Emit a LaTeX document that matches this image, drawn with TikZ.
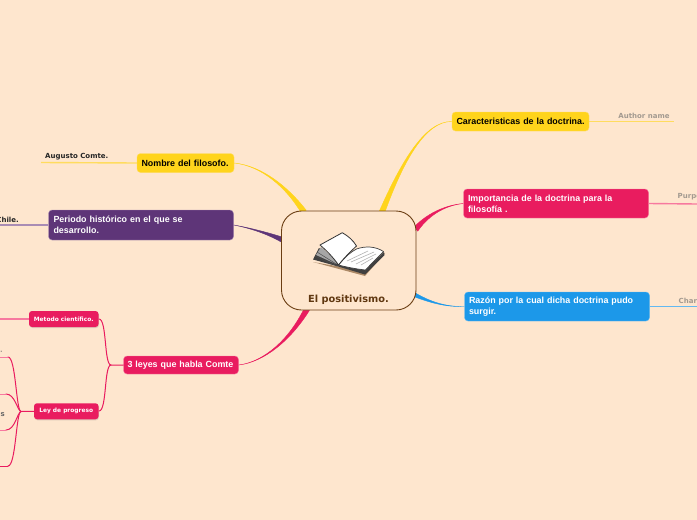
\documentclass[tikz,border=0pt]{standalone}
\usepackage{fontspec}
\setmainfont{Liberation Sans}
\newfontfamily\dejavu{DejaVu Sans}
\usetikzlibrary{calc,shadows}
\definecolor{bgc}{HTML}{FEE6CE}
\definecolor{yel}{HTML}{FFD41C}
\definecolor{mag}{HTML}{E91C5F}
\definecolor{pur}{HTML}{5E3578}
\definecolor{blu}{HTML}{1C98E9}
\definecolor{brn}{HTML}{6B3E13}
\definecolor{yell}{HTML}{FFDC5E}
\definecolor{magl}{HTML}{F7799F}
\definecolor{purl}{HTML}{A98CB4}
\definecolor{blul}{HTML}{63B9F1}
\definecolor{gr}{HTML}{A39A90}
\tikzset{
  topic/.style={rounded corners=3.5pt,inner sep=0pt,align=left,font=\bfseries\fontsize{8.9}{11}\selectfont,anchor=center},
  subtopic/.style={rounded corners=3pt,inner sep=0pt,align=center,font=\dejavu\bfseries\fontsize{5.9}{8}\selectfont,fill=mag,text=white,drop shadow={shadow xshift=0.5pt,shadow yshift=-1pt,opacity=.25}},
  leaftext/.style={inner sep=0pt,font=\dejavu\bfseries\fontsize{7}{8}\selectfont},
  thin link/.style={line width=1pt,line cap=round},
  leaf link/.style={line width=1.4pt},
}
% start, c1, c2, end, colour, half-width vector at the end
\newcommand{\taper}[6]{%
  \fill[#5,draw=#5,line width=.4pt,line join=round] (#1) .. controls ($(#2)+0.05*(#6)$) and ($(#3)+0.3*(#6)$) .. ($(#4)+(#6)$) -- ($(#4)-(#6)$) .. controls ($(#3)-0.3*(#6)$) and ($(#2)-0.05*(#6)$) .. (#1);}
\begin{document}
\begin{tikzpicture}[x=1pt,y=-1pt]
\useasboundingbox (0,0) rectangle (697,520);
\clip (0,0) rectangle (697,520);
\fill[bgc] (0,0) rectangle (697,520);

% nodes (fixed sizes)
\node[topic,fill=yel,draw=yell,line width=.4pt,text=black,minimum width=137pt,minimum height=19pt,text width=128pt] (car) at (520.5,121.5) {\mbox{Caracteristicas de la doctrina.}};
\node[topic,fill=mag,draw=magl,line width=.4pt,text=white,minimum width=185pt,minimum height=29pt,text width=176pt] (imp) at (556,203.5) {Importancia de la doctrina para la\\filosofía .};
\node[topic,fill=blu,draw=blul,line width=.4pt,text=white,minimum width=185pt,minimum height=29pt,text width=176pt] (raz) at (557,306.5) {Razón por la cual dicha doctrina pudo\\surgir.};
\node[topic,fill=yel,draw=yell,line width=.4pt,text=black,minimum width=97pt,minimum height=19pt,text width=88pt] (nom) at (185.5,163) {Nombre del filosofo.};
\node[topic,fill=pur,draw=purl,line width=.4pt,text=white,minimum width=185pt,minimum height=30pt,text width=175pt] (per) at (141,225) {Periodo histórico en el que se\\desarrollo.};
\node[topic,fill=mag,draw=magl,line width=.4pt,text=white,minimum width=115pt,minimum height=18pt,text width=107pt] (ley) at (181,365) {3 leyes que habla Comte};
\node[subtopic,minimum width=69.5pt,minimum height=16pt] (met) at (63.75,319) {Metodo científico.};
\node[subtopic,minimum width=64.5pt,minimum height=16pt] (pro) at (66.25,411.25) {Ley de progreso};

% central node geometry for the connectors
\coordinate (cenyl) at (304,212);
\coordinate (cenyr) at (382,212);
\coordinate (cenp) at (283,240);
\coordinate (cenm) at (416,229);
\coordinate (cenb) at (415,295);
\coordinate (cenl) at (307,309);

% main branches
\taper{nom.east}{262,166}{287,187}{cenyl}{yel}{2.2,-1.8}
\taper{car.west}{425,121}{402,162}{cenyr}{yel}{2.6,1.0}
\taper{per.east}{250,228}{267,233}{cenp}{pur}{1.0,-2.4}
\taper{imp.west}{448,205}{430,212}{cenm}{mag}{1.7,2.2}
\taper{raz.west}{445,307}{430,302}{cenb}{blu}{0.8,-1.7}
\taper{ley.east}{264,362}{290,340}{cenl}{mag}{2.4,1.4}

% central node
\node[draw=brn,line width=.9pt,fill=bgc,rounded corners=20pt,minimum width=134.5pt,minimum height=99pt,inner sep=0pt] (cen) at (348.75,260.5) {};
\node[inner sep=0pt,font=\dejavu\bfseries\fontsize{9.8}{11}\selectfont,text=brn!90!black] (centext) at (348.5,299.5) {El positivismo.};

% book
\fill[brn!55!bgc] (313,262) -- (365,276) -- (385,253) -- (365,271) -- cycle;
\fill[black!75] (313,259.5) -- (319,248) -- (340,262) -- (365,270) -- (384,252) -- (384.5,255) -- (365,274.5) -- (340,267) -- cycle;
\fill[black!35] (316,255) -- (321,247) -- (338,262) -- (336,264) -- cycle;
\draw[black!70,line width=.5pt] (317,252) -- (337,264.5) (315,256) -- (337,266);
\draw[black!75,line width=.7pt,fill=white,line join=round] (338.5,265) .. controls (347,255) and (351,252) .. (356.5,249) .. controls (365,246) and (375,246) .. (383.5,251.5) .. controls (377,258) and (371,264) .. (365.5,270) .. controls (356,269) and (346,267) .. (338.5,265) -- cycle;
\draw[black!30,line width=.6pt] (347,261) -- (368,251) (351,262) -- (374,252) (356,264) -- (376,254) (361,265) -- (373,258);
\draw[black!80,line width=.8pt,fill=white,line join=round] (320,245) -- (342.3,232.7) .. controls (348,236) and (353,240) .. (356.5,246) .. controls (350,252) and (344,258) .. (338.5,265) .. controls (333,257) and (326,250) .. (320,245) -- cycle;

% leaves
\node[leaftext,text=gr,anchor=south] (lauth) at (644,119) {Author name};
\coordinate (eauth) at (674,121.5);
\draw[yell,leaf link] (car.east) -- (eauth);
\node[leaftext,text=gr,anchor=south west] (lpur) at (677.5,200.5) {Purpo};
\coordinate (epur) at (697,204);
\draw[magl,leaf link] (imp.east) -- (epur);
\node[leaftext,text=gr,anchor=south west] (lcha) at (678.5,303.5) {Chara};
\coordinate (echa) at (697,306.5);
\draw[blul,leaf link] (raz.east) -- (echa);
\node[leaftext,text=black!85,anchor=south west] (lcom) at (45,160) {Augusto Comte.};
\coordinate (ecom) at (41,162.5);
\draw[yell,leaf link] (nom.west) -- (ecom);
\node[leaftext,text=black!85,anchor=south east] (lchi) at (19,222.5) {Chile.};
\coordinate (echi) at (0,225);
\draw[purl,leaf link] (per.west) -- (echi);
\coordinate (emet) at (0,319);
\draw[magl,leaf link] (met.west) -- (emet);
\node[leaftext,text=gr,anchor=south east] (ldot) at (3,353) {.};
\node[leaftext,text=black!60,anchor=east] (lds) at (5,415) {s};

% sub-branches
\coordinate (jl) at (111,365);
\draw[mag,thin link] (ley.west) -- (jl) .. controls (104,365) and (107,319) .. (99,319);
\draw[mag,thin link] (jl) .. controls (104,365) and (107,411) .. (99,411);
\coordinate (jp) at (21,411.5);
\draw[mag,thin link] (pro.west) -- (jp);
\coordinate (e1) at (0,357);
\coordinate (e2) at (0,394);
\coordinate (e3) at (0,430);
\coordinate (e4) at (0,466);
\draw[mag,thin link] (jp) .. controls (16,411) and (16,357) .. (8,357);
\draw[magl,thin link] (8,357) -- (e1);
\draw[mag,thin link] (jp) .. controls (17,410) and (15,394) .. (6,394);
\draw[magl,thin link] (6,394) -- (e2);
\draw[mag,thin link] (jp) .. controls (17,413) and (15,430) .. (6,430);
\draw[magl,thin link] (6,430) -- (e3);
\draw[mag,thin link] (jp) .. controls (16,412) and (16,466) .. (8,466);
\draw[mag,thin link] (8,466) -- (e4);
\end{tikzpicture}
\end{document}
